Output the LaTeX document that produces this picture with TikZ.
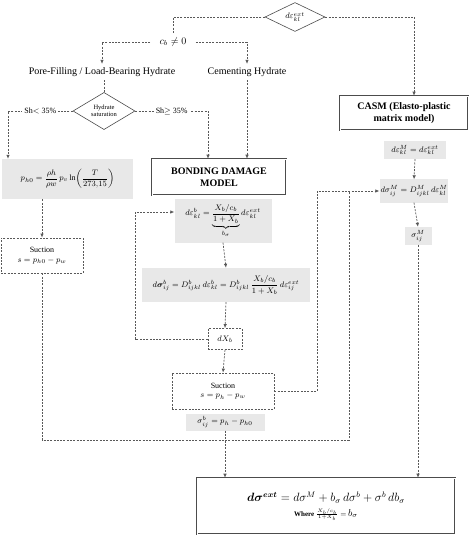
\documentclass[tikz,border=0pt]{standalone}
\usepackage{amsmath}
\usepackage{fontspec}
\setmainfont{Liberation Serif}
\usetikzlibrary{shapes.geometric,arrows.meta}
\begin{document}
\begin{tikzpicture}[x=1pt,y=-1pt,
    flow/.style={draw=black!65,line width=0.7pt,dash pattern=on 2pt off 1.3pt},
    arr/.style={flow,-{Latex[length=4pt,width=3.5pt]}},
    grey/.style={fill=black!9,inner sep=1pt,align=center},
    dbox/.style={flow,align=center,inner sep=1pt},
    mbox/.style={draw=black!70,double=white,double distance=0.9pt,line width=0.6pt,align=center,font=\bfseries,inner sep=1pt},
    choice/.style={diamond,draw=black!70,line width=0.6pt,inner sep=0pt,align=center},
    lbl/.style={fill=white,inner sep=2pt,font=\footnotesize}]
      \useasboundingbox (0,0) rectangle (474,537);
      \node[choice,minimum width=60pt,minimum height=29pt] (ext) at (295,17) {\footnotesize$d\varepsilon^{ext}_{kl}$};
      \node (cb) at (173,42) {$c_b \neq 0$};
      \node (pore) at (102,72) {Pore-Filling / Load-Bearing Hydrate};
      \node (cem) at (247,72) {Cementing Hydrate};
      \node[choice,minimum width=62pt,minimum height=36pt,font=\fontsize{6.5}{7}\selectfont] (sat) at (104,111) {Hydrate\\saturation};
      \node[mbox,minimum width=134pt,minimum height=36pt] (bond) at (219,177) {BONDING DAMAGE\\MODEL};
      \node[grey,minimum width=131pt,minimum height=40pt] (pso) at (67.5,179) {\footnotesize$p_{h0}=\dfrac{\rho h}{\rho w}\,p_v\ln\!\left(\dfrac{T}{273{,}15}\right)$};
      \node[dbox,minimum width=82pt,minimum height=35pt,font=\footnotesize] (suc1) at (42,255.5) {Suction\\$s=p_{h0}-p_w$};
      \node[grey,minimum width=97pt,minimum height=43pt] (epsb) at (223,221) {\footnotesize$d\varepsilon^{b}_{kl}=\underbrace{\dfrac{X_b/c_b}{1+X_b}}_{b_\sigma}d\varepsilon^{ext}_{kl}$};
      \node[grey,minimum width=168pt,minimum height=34pt] (sigb) at (226,285) {\footnotesize$d\boldsymbol{\sigma}^{b}_{ij}=D^{b}_{ijkl}\,d\varepsilon^{b}_{kl}=D^{b}_{ijkl}\,\dfrac{X_b/c_b}{1+X_b}\,d\varepsilon^{ext}_{ij}$};
      \node[dbox,minimum width=34pt,minimum height=21pt] (dxb) at (225,339) {\footnotesize$dX_b$};
      \node[dbox,minimum width=102pt,minimum height=36pt,font=\footnotesize] (suc2) at (223,391) {Suction\\$s=p_h-p_w$};
      \node[grey,minimum width=79pt,minimum height=17pt] (sigh) at (225,422) {\footnotesize$\sigma^{b}_{ij}=p_h-p_{h0}$};
      \node[mbox,minimum width=128pt,minimum height=34pt] (casm) at (404,113) {CASM (Elasto-plastic\\matrix model)};
      \node[grey,minimum width=62pt,minimum height=18pt] (epsM) at (415,150) {\footnotesize$d\varepsilon^{M}_{kl}=d\varepsilon^{ext}_{kl}$};
      \node[grey,minimum width=62pt,minimum height=23pt] (sigM) at (414,191) {\footnotesize$d\sigma^{M}_{ij}=D^{M}_{ijkl}\,d\varepsilon^{M}_{kl}$};
      \node[grey,minimum width=27pt,minimum height=18pt] (sigMM) at (418,236) {\footnotesize$\sigma^{M}_{ij}$};
      \node[mbox,font=\normalfont,minimum width=258pt,minimum height=56pt] (total) at (326,506) {{\large$\boldsymbol{d\sigma^{ext}}=d\sigma^{M}+b_\sigma\,d\sigma^{b}+\sigma^{b}\,db_\sigma$}\\[3pt]{\scriptsize\bfseries Where $\frac{X_b/c_b}{1+X_b}=$}\,$b_\sigma$};
      \coordinate (lt) at (8,111);
      \coordinate (rt) at (208,111);
      \coordinate (lp) at (135,212);
      \coordinate (rp) at (317,191);
      \coordinate (jn) at (349,440);
      \draw[flow] (ext.west) -| (cb.north);
      \draw[arr] (ext.east) -| ([xshift=10pt]casm.north);
      \draw[arr,shorten <=6pt] (cb.west) -| (pore.north);
      \draw[arr,shorten <=6pt] (cb.east) -| (cem.north);
      \draw[flow] (sat.north |- pore.south) -- (sat.north);
      \draw[arr] (sat.west) -- node[lbl] {Sh$<$ 35\%} (lt) -- (lt |- pso.north);
      \draw[arr] (sat.east) -- node[lbl] {Sh$\geq$ 35\%} (rt) -- (rt |- bond.north);
      \draw[arr] (cem.south) -- (cem.south |- bond.north);
      \draw[arr] (pso.south -| suc1.north) -- (suc1.north);
      \draw[arr] (epsb.south) -- (sigb.north);
      \draw[arr] (sigb.south) -- (dxb.north);
      \draw[arr] (dxb.west) -| (lp) -- (epsb.west |- lp);
      \draw[arr] (dxb.south) -- (suc2.north);
      \draw[arr] (suc2.east) -| (rp) -- (sigM.west |- rp);
      \draw[flow] (suc1.south) |- (jn) -- (jn |- rp);
      \draw[arr] (sigh.south) -- (sigh.south |- total.north);
      \draw[arr] (epsM.south) -- (sigM.north);
      \draw[arr] (sigM.south) -- (sigMM.north);
      \draw[arr] (sigMM.south) -- (sigMM.south |- total.north);
    \end{tikzpicture}
\end{document}
